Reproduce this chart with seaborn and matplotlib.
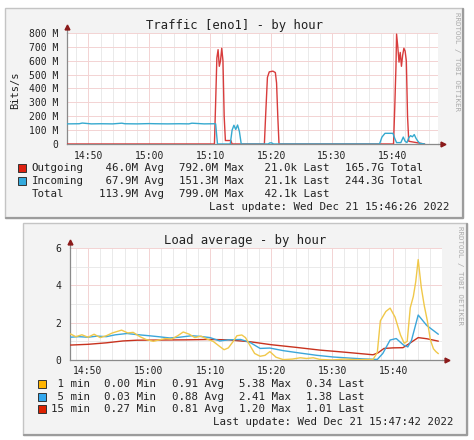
import matplotlib
matplotlib.use("Agg")
import matplotlib.pyplot as plt
from matplotlib.patches import Rectangle
from matplotlib.lines import Line2D
import seaborn as sns

# ---- traffic [eno1], time = minutes after 14:00, values in Mbit/s
out_t = [46.5, 70.7, 70.9, 71.1, 71.3, 71.5, 71.7, 71.9, 72.1, 72.3, 72.5, 73.4, 73.6,
         78.9, 79.1, 79.4, 79.7, 80.3, 80.7, 80.9, 81.1, 81.3,
         100.1, 100.3, 100.5, 100.6, 100.8, 101.0, 101.2, 101.4, 101.6, 101.8, 102.0,
         102.2, 102.4, 102.6, 102.8, 105.2]
out_mbit = [0, 0, 300, 620, 680, 560, 600, 690, 600, 200, 25, 25, 0,
            0, 200, 480, 520, 525, 515, 440, 200, 0,
            0, 260, 560, 792, 700, 590, 660, 560, 640, 690, 670,
            600, 200, 20, 18, 0.02]
in_t = [46.5, 48.5, 49.0, 50.5, 52, 54, 55.5, 56, 58, 60, 61, 63, 65, 66.5, 67.0, 69, 70.7,
        70.9, 71.2, 73.3, 73.6, 73.9, 74.2, 74.5, 74.8, 75.1, 79.5, 79.8, 80.1, 80.4,
        97.8, 98.2, 98.7, 99.5, 100.0, 100.3, 100.6, 101.3, 101.7, 102.0, 102.3, 102.6,
        102.9, 103.2, 103.5, 103.8, 104.1, 104.4, 105.2]
in_mbit = [145, 146, 151, 145, 146, 145, 150, 146, 145, 147, 146, 145, 146, 145, 150, 145, 146,
           145, 0, 0, 100, 135, 105, 137, 90, 0, 0, 8, 8, 0,
           0, 50, 77, 77, 77, 40, 10, 10, 50, 20, 10, 45,
           60, 52, 68, 40, 20, 5, 0.02]
traffic_ticks = [0, 100, 200, 300, 400, 500, 600, 700, 800]
traffic_labels = ["0", "100 M", "200 M", "300 M", "400 M", "500 M", "600 M", "700 M", "800 M"]

# ---- load average
t1 = [47.1, 48, 49, 50, 51, 52, 53, 54, 55.5, 56.5, 57.4, 58.5, 59.5, 60.7, 61.7, 62.7, 63.7,
      64.7, 65.6, 66.6, 67.5, 68.5, 69.5, 70.5, 71.6, 72.3, 73.0, 73.8, 74.4, 75.2, 75.8,
      76.5, 77.3, 78.2, 79.0, 79.8, 80.8, 82, 83.5, 84.8, 85.8, 86.9, 88, 90, 92, 94,
      96.7, 97.4, 97.9, 98.8, 99.5, 100.3, 101.2, 101.8, 102.3, 102.8, 103.3, 103.7,
      104.1, 104.6, 105.1, 105.6, 106.1, 106.6, 107.0, 107.4]
load1 = [1.40, 1.25, 1.35, 1.22, 1.38, 1.20, 1.30, 1.45, 1.60, 1.45, 1.48, 1.25, 1.10, 1.00,
         1.08, 1.15, 1.12, 1.30, 1.50, 1.38, 1.20, 1.28, 1.12, 1.00, 0.72, 0.55, 0.65, 1.00,
         1.30, 1.34, 1.20, 0.80, 0.35, 0.20, 0.25, 0.45, 0.15, 0.02, 0.05, 0.12, 0.08, 0.12,
         0.03, 0.00, 0.05, 0.02, 0.03, 0.40, 2.10, 2.60, 2.78, 2.30, 1.34, 0.90, 1.00, 2.80,
         3.40, 4.20, 5.38, 3.90, 2.90, 2.10, 1.07, 0.60, 0.45, 0.34]
t5 = [47.1, 48.5, 50, 51.5, 53, 54.5, 56.4, 58, 60, 61.5, 63.4, 65, 67, 68.5, 70, 71.6, 73,
      75, 76.5, 78.2, 79.8, 82, 84.8, 87.5, 90.2, 93, 95, 97.4, 98.3, 99.5, 100.5, 101.7,
      102.4, 103, 104.1, 105.5, 107.4]
load5 = [1.22, 1.25, 1.22, 1.28, 1.25, 1.35, 1.42, 1.36, 1.30, 1.25, 1.18, 1.22, 1.30, 1.26,
         1.20, 1.02, 1.08, 1.10, 0.95, 0.62, 0.64, 0.50, 0.37, 0.25, 0.16, 0.10, 0.06, 0.03,
         0.35, 1.07, 1.15, 0.80, 0.70, 1.05, 2.41, 1.85, 1.38]
t15 = [47.1, 50, 53, 55.7, 58, 62, 66, 70, 73, 75, 76.5, 80, 84, 88, 92, 96.7, 97.5, 98.5,
       100, 101.6, 102.5, 104.1, 105.5, 107.4]
load15 = [0.80, 0.84, 0.92, 1.02, 1.06, 1.07, 1.08, 1.10, 1.08, 1.02, 0.98, 0.82, 0.68, 0.53,
          0.42, 0.28, 0.38, 0.62, 0.65, 0.66, 0.85, 1.20, 1.14, 1.01]
load_ticks = [0, 2, 4, 6]

time_ticks = [50, 60, 70, 80, 90, 100]

W, H = 474, 440
MONO = "DejaVu Sans Mono"
sns.set_style("white")
plt.rcParams["font.family"] = [MONO]

fig = plt.figure(figsize=(W / 100, H / 100), dpi=100)
fig.patch.set_facecolor("white")


def fx(x):
    return x / W


def fy(y):
    return 1 - y / H


def panel(x0, y0, x1, y1):
    fig.patches.append(Rectangle((fx(x0), fy(y1)), (x1 - x0) / W, (y1 - y0) / H,
                                 transform=fig.transFigure, facecolor="#F3F3F3",
                                 edgecolor="#C4C4C4", lw=1, zorder=-5))
    fig.add_artist(Line2D([fx(x0 + 1), fx(x1), fx(x1)], [fy(y1), fy(y1), fy(y0 + 1)],
                          transform=fig.transFigure, color="#9C9C9C", lw=1.6, zorder=-4))


def make_axes(x0, y0, x1, y1, xlim, ylim, minor_y, major_y):
    ax = fig.add_axes([fx(x0), fy(y1), (x1 - x0) / W, (y1 - y0) / H])
    ax.set_facecolor("white")
    ax.set_xlim(*xlim)
    ax.set_ylim(*ylim)
    for m in range(48, int(xlim[1]) + 1, 2):
        if m % 10:
            ax.axvline(m, color="#E6E6E6", lw=0.6, zorder=0)
    for m in time_ticks:
        ax.axvline(m, color="#F3D3D3", lw=0.7, zorder=0)
    for v in minor_y:
        ax.axhline(v, color="#E6E6E6", lw=0.6, zorder=0)
    for v in major_y:
        ax.axhline(v, color="#F3D3D3", lw=0.7, zorder=0)
    for s in ["top", "right"]:
        ax.spines[s].set_visible(False)
    for s in ["left", "bottom"]:
        ax.spines[s].set_color("#8A8A8A")
        ax.spines[s].set_linewidth(0.9)
    ax.set_xticks(time_ticks)
    ax.set_xticklabels([f"{14 + m // 60}:{m % 60:02d}" for m in time_ticks])
    ax.tick_params(axis="both", length=2, width=0.7, color="#8A8A8A",
                   labelsize=7, labelcolor="#222222")
    ax.plot([0, 0], [1, 1.045], transform=ax.transAxes, color="#8A8A8A", lw=0.9, clip_on=False)
    ax.plot([1, 1.012], [0, 0], transform=ax.transAxes, color="#8A8A8A", lw=0.9, clip_on=False)
    ax.plot([0], [1.05], marker="^", ms=3.5, color="#8B1A1A", transform=ax.transAxes, clip_on=False)
    ax.plot([1.014], [0], marker=">", ms=3.5, color="#8B1A1A", transform=ax.transAxes, clip_on=False)
    return ax


def txt(x, y, s, **kw):
    kw.setdefault("fontsize", 7.75)
    kw.setdefault("color", "#222222")
    kw.setdefault("va", "center")
    kw.setdefault("ha", "left")
    fig.text(fx(x), fy(y), s, family=MONO, **kw)


def square(x, y, color):
    fig.patches.append(Rectangle((fx(x), fy(y + 4)), 8 / W, 8 / H, transform=fig.transFigure,
                                 facecolor=color, edgecolor="#333333", lw=0.7, zorder=3))


CW = 6.47

# ---------------- top panel: traffic
panel(5, 8, 463, 218)
ax1 = make_axes(67, 33, 438, 144, (46.5, 107.4), (0, 800), [], traffic_ticks)
sns.lineplot(x=out_t, y=out_mbit, ax=ax1, color="#D83C3C", lw=1.0, zorder=3)
sns.lineplot(x=in_t, y=in_mbit, ax=ax1, color="#35A9CF", lw=1.0, zorder=4)
ax1.set_yticks(traffic_ticks)
ax1.set_yticklabels(traffic_labels)
ax1.tick_params(axis="y", pad=4)
ax1.tick_params(axis="x", pad=3)
ax1.set_xlabel("")
ax1.set_ylabel("")
txt(234, 25, "Traffic [eno1] - by hour", fontsize=8.8, ha="center")
txt(15, 90, "Bits/s", fontsize=7.5, rotation=90, ha="center")
txt(457, 62, "RRDTOOL / TOBI OETIKER", fontsize=5.4, rotation=270, ha="center", color="#ABABAB")

traffic_rows = [
    ("Outgoing", "#DD2211", "46.0M", "792.0M", "21.0k", "165.7G"),
    ("Incoming", "#33AADD", "67.9M", "151.3M", "21.1k", "244.3G"),
    ("Total", None, "113.9M", "799.0M", "42.1k", None),
]
for i, (name, col, avg, mx, last, tot) in enumerate(traffic_rows):
    y = 168.3 + i * 12.85
    if col:
        square(18, y, col)
    txt(31.5, y, name)
    txt(144 - 7 * CW, y, f"{avg:>6} Avg")
    txt(224 - 7 * CW, y, f"{mx:>6} Max")
    txt(303 - 7 * CW, y, f"{last:>6} Last")
    if tot:
        txt(390 - 7 * CW, y, f"{tot:>6} Total")
txt(449.5, 207.3, "Last update: Wed Dec 21 15:46:26 2022", ha="right")

# ---------------- bottom panel: load average
panel(23, 223, 467, 435)
ax2 = make_axes(70, 248, 442, 360, (47.05, 108.0), (0, 6), [1, 3, 5], load_ticks)
sns.lineplot(x=t15, y=load15, ax=ax2, color="#C8321E", lw=1.0, zorder=3)
sns.lineplot(x=t5, y=load5, ax=ax2, color="#3BA6DA", lw=1.0, zorder=4)
sns.lineplot(x=t1, y=load1, ax=ax2, color="#F0C84A", lw=1.0, zorder=5)
ax2.set_yticks(load_ticks)
ax2.set_yticklabels([str(v) for v in load_ticks])
ax2.tick_params(axis="y", pad=4)
ax2.tick_params(axis="x", pad=2)
ax2.set_xlabel("")
ax2.set_ylabel("")
txt(245, 240.7, "Load average - by hour", fontsize=8.8, ha="center")
txt(460, 275, "RRDTOOL / TOBI OETIKER", fontsize=5.4, rotation=270, ha="center", color="#ABABAB")

load_rows = [
    (" 1 min", "#FFB400", "0.00", "0.91", "5.38", "0.34"),
    (" 5 min", "#33A8EE", "0.03", "0.88", "2.41", "1.38"),
    ("15 min", "#DD2200", "0.27", "0.81", "1.20", "1.01"),
]
for i, (name, col, mn, avg, mx, last) in enumerate(load_rows):
    y = 384 + i * 12.65
    square(37.5, y, col)
    txt(70 - 3 * CW, y, name)
    txt(136.7 - 5 * CW, y, f"{mn} Min")
    txt(204 - 5 * CW, y, f"{avg} Avg")
    txt(271.7 - 5 * CW, y, f"{mx} Max")
    txt(338.3 - 5 * CW, y, f"{last} Last")
txt(453.3, 422, "Last update: Wed Dec 21 15:47:42 2022", ha="right")

fig.savefig("out.png", dpi=100, facecolor="white")
